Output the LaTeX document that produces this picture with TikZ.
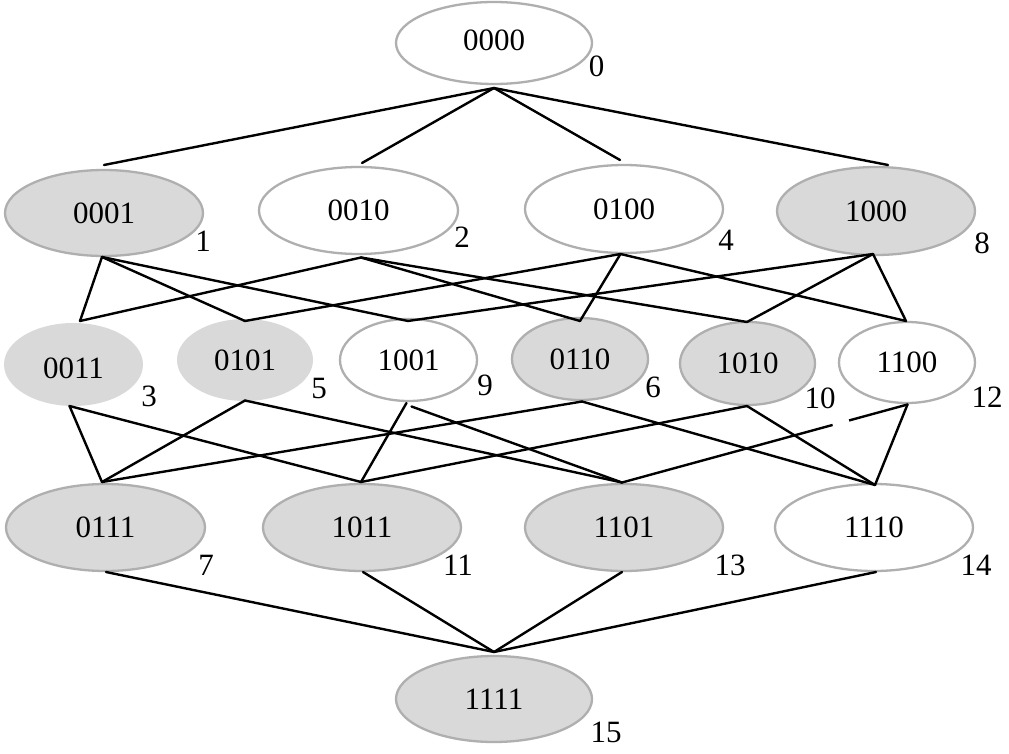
\documentclass[tikz,border=0pt]{standalone}
\usepackage{fontspec}
\setmainfont{Liberation Serif}
\usetikzlibrary{shapes.geometric}
\definecolor{gfill}{RGB}{217,217,217}
\definecolor{gline}{RGB}{175,175,175}
\tikzset{
  ell/.style={ellipse, draw=gline, line width=2.3pt, inner sep=0pt,
    font=\fontsize{31}{36}\selectfont},
  ellfill/.style={ell, fill=gfill},
  ellnb/.style={ellipse, fill=gfill, inner sep=0pt, font=\fontsize{31}{36}\selectfont},
  num/.style={inner sep=0pt, font=\fontsize{31}{36}\selectfont},
  edge/.style={draw=black, line width=2.4pt, line cap=round},
}
\begin{document}
\begin{tikzpicture}[x=1pt, y=-1pt]
\useasboundingbox[fill=white] (0,0) rectangle (1009,754);
% level 0
\node[ell, minimum width=196, minimum height=82, label={[num, yshift=3pt]center:0000}] (n0) at (494,43) {};
% level 1
\node[ellfill, minimum width=198, minimum height=86] (n1) at (104,213) {0001};
\node[ell, minimum width=199, minimum height=87] (n2) at (358.5,210.5) {0010};
\node[ell, minimum width=198, minimum height=88] (n4) at (624,209) {0100};
\node[ellfill, minimum width=198, minimum height=88] (n8) at (876,211) {1000};
% level 2
\node[ellnb, minimum width=139, minimum height=83, label={[num, yshift=-4pt]center:0011}] (n3) at (73.5,364.5) {};
\node[ellnb, minimum width=136, minimum height=82] (n5) at (245,360) {0101};
\node[ell, minimum width=137, minimum height=82] (n9) at (408.5,360) {1001};
\node[ellfill, minimum width=136, minimum height=82] (n6) at (580,359) {0110};
\node[ellfill, minimum width=135, minimum height=83] (n10) at (747.5,363.5) {1010};
\node[ell, minimum width=136, minimum height=81] (n12) at (907,362.5) {1100};
% level 3
\node[ellfill, minimum width=199, minimum height=87] (n7) at (105.5,527.5) {0111};
\node[ellfill, minimum width=198, minimum height=87] (n11) at (362,527.5) {1011};
\node[ellfill, minimum width=198, minimum height=87] (n13) at (624,527.5) {1101};
\node[ell, minimum width=198, minimum height=87] (n14) at (874,527.5) {1110};
% level 4
\node[ellfill, minimum width=196, minimum height=86] (n15) at (494,699) {1111};
% number labels
\node[num] (l0) at (596.5,66) {0};
\node[num] (l1) at (203,241) {1};
\node[num] (l2) at (462,237) {2};
\node[num] (l4) at (726,240) {4};
\node[num] (l8) at (982,243) {8};
\node[num] (l3) at (149,396) {3};
\node[num] (l5) at (319,389) {5};
\node[num] (l9) at (485,385) {9};
\node[num] (l6) at (653,387) {6};
\node[num] (l10) at (820,398) {10};
\node[num] (l12) at (987,397) {12};
\node[num] (l7) at (206,565) {7};
\node[num] (l11) at (458,565) {11};
\node[num] (l13) at (730,565) {13};
\node[num] (l14) at (976,565) {14};
\node[num] (l15) at (606,732) {15};
% attachment points
\coordinate (b0) at (494,88);
\coordinate (t1) at (104,165);
\coordinate (t2) at (362,163);
\coordinate (t4) at (620,160);
\coordinate (t8) at (888,165);
\coordinate (b1) at (102,257);
\coordinate (b2) at (361,257.5);
\coordinate (b4) at (620.5,254);
\coordinate (b8) at (873,254);
\coordinate (t3) at (80,321);
\coordinate (t5) at (245,321);
\coordinate (t9) at (408,321);
\coordinate (t6) at (580,321);
\coordinate (t10) at (747,322);
\coordinate (t12) at (906,321);
\coordinate (b3) at (69.5,406);
\coordinate (b5) at (245,400.5);
\coordinate (b9a) at (406.5,403);
\coordinate (b9b) at (411.5,406.5);
\coordinate (b6) at (582,401.5);
\coordinate (b10) at (747,406);
\coordinate (b12) at (907.5,404.5);
\coordinate (t7) at (102,482);
\coordinate (t11) at (361,482);
\coordinate (t13) at (622,482.5);
\coordinate (t14) at (875,485);
\coordinate (b7) at (106,572);
\coordinate (b11) at (363,572);
\coordinate (b13) at (622,572);
\coordinate (b14) at (876,572);
\coordinate (t15) at (494,652);
% edges
\draw[edge] (b0) -- (t1);
\draw[edge] (b0) -- (t2);
\draw[edge] (b0) -- (t4);
\draw[edge] (b0) -- (t8);
\draw[edge] (b1) -- (t3);
\draw[edge] (b1) -- (t5);
\draw[edge] (b1) -- (t9);
\draw[edge] (b2) -- (t3);
\draw[edge] (b2) -- (t6);
\draw[edge] (b2) -- (t10);
\draw[edge] (b4) -- (t5);
\draw[edge] (b4) -- (t6);
\draw[edge] (b4) -- (t12);
\draw[edge] (b8) -- (t9);
\draw[edge] (b8) -- (t10);
\draw[edge] (b8) -- (t12);
\draw[edge] (b3) -- (t7);
\draw[edge] (b3) -- (t11);
\draw[edge] (b5) -- (t7);
\draw[edge] (b5) -- (t13);
\draw[edge] (b9a) -- (t11);
\draw[edge] (b9b) -- (t13);
\draw[edge] (b6) -- (t7);
\draw[edge] (b6) -- (t14);
\draw[edge] (b10) -- (t11);
\draw[edge] (b10) -- (t14);
\draw[edge] (b12) -- (t13);
\draw[edge] (b12) -- (t14);
\draw[edge] (b7) -- (t15);
\draw[edge] (b11) -- (t15);
\draw[edge] (b13) -- (t15);
\draw[edge] (b14) -- (t15);
% gap in the 1100--1101 line
\path (b12) -- (t13) coordinate[pos=0.205] (g1) coordinate[pos=0.262] (g2);
\draw[white, line width=5pt] (g1) -- (g2);
\end{tikzpicture}
\end{document}
